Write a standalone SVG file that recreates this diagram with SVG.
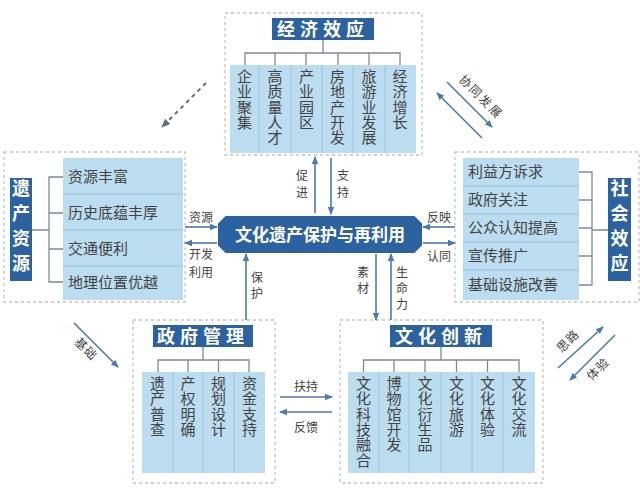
<svg xmlns="http://www.w3.org/2000/svg" width="640" height="492" viewBox="0 0 640 492">
<defs>
<style>
text{font-family:"Noto Sans CJK SC","Noto Sans",sans-serif;}
.frame{fill:none;stroke:#c4c4c4;stroke-width:1.3;stroke-dasharray:3 3;}
.panel{fill:#bcdcef;}
.sep{stroke:#9fc3da;stroke-width:1;}
.title{fill:#2d62a0;}
.tt{fill:#fff;font-weight:bold;font-size:18px;}
.tree{fill:none;stroke:#7d8b98;stroke-width:1.3;}
.it{fill:#444;font-size:15px;}
.vt{fill:#444;font-size:15px;writing-mode:vertical-rl;text-orientation:upright;letter-spacing:0.3px;}
.arr{stroke:#4a7ab3;stroke-width:1.6;fill:none;marker-end:url(#ah);}
.lbl{fill:#444;font-size:12px;}
</style>
<marker id="ah" markerWidth="8" markerHeight="8" refX="7" refY="4" orient="auto" markerUnits="userSpaceOnUse">
<path d="M0,0.8 L8,4 L0,7.2 Z" fill="#4a7ab3"/>
</marker>
<marker id="ahg" markerWidth="9" markerHeight="9" refX="8" refY="4.5" orient="auto" markerUnits="userSpaceOnUse">
<path d="M0,0.8 L9,4.5 L0,8.2 Z" fill="#5f6f82"/>
</marker>
</defs>
<rect width="640" height="492" fill="#fff"/>

<g id="economic">
<rect class="frame" x="225" y="13" width="197" height="142"/>
<rect class="title" x="272" y="18" width="102" height="22"/>
<text class="tt" x="323" y="36" text-anchor="middle" letter-spacing="5">经济效应</text>
<path class="tree" d="M323,40 V53 M245,65 V53 H400 V65 M275,53 V65 M306,53 V65 M338,53 V65 M369,53 V65"/>
<rect class="panel" x="230" y="65" width="186" height="88"/>
<path class="sep" d="M259,65V153M291,65V153M322,65V153M353,65V153M385,65V153"/>
<text class="vt" x="244.5" y="69">企业聚集</text>
<text class="vt" x="275" y="69">高质量人才</text>
<text class="vt" x="306.5" y="69">产业园区</text>
<text class="vt" x="337.5" y="69">房地产开发</text>
<text class="vt" x="369" y="69">旅游业发展</text>
<text class="vt" x="400" y="69">经济增长</text>
</g>

<g id="heritage">
<rect class="frame" x="4" y="152" width="181" height="150"/>
<rect class="title" x="10" y="178" width="22" height="103"/>
<text class="tt" text-anchor="middle"><tspan x="21" y="195">遗</tspan><tspan x="21" y="220">产</tspan><tspan x="21" y="245">资</tspan><tspan x="21" y="270">源</tspan></text>
<path class="tree" d="M32,230 H49 M63,177 H49 V282 H63 M49,213 H63 M49,249 H63"/>
<rect class="panel" x="63" y="158" width="120" height="142"/>
<path class="sep" d="M63,194H183M63,230H183M63,266H183"/>
<text class="it" x="68" y="182">资源丰富</text>
<text class="it" x="68" y="218">历史底蕴丰厚</text>
<text class="it" x="68" y="254">交通便利</text>
<text class="it" x="68" y="288">地理位置优越</text>
</g>

<g id="social">
<rect class="frame" x="455" y="152" width="184" height="150"/>
<path class="tree" d="M579,172 H592 V285 H579 M579,200 H592 M579,228 H592 M579,256 H592 M592,230 H608"/>
<rect class="panel" x="463" y="158" width="116" height="142"/>
<path class="sep" d="M463,186H579M463,214H579M463,242H579M463,270H579"/>
<text class="it" x="468" y="177">利益方诉求</text>
<text class="it" x="468" y="205">政府关注</text>
<text class="it" x="468" y="233">公众认知提高</text>
<text class="it" x="468" y="261">宣传推广</text>
<text class="it" x="468" y="290">基础设施改善</text>
<rect class="title" x="608" y="178" width="23" height="103"/>
<text class="tt" text-anchor="middle"><tspan x="619.5" y="195">社</tspan><tspan x="619.5" y="220">会</tspan><tspan x="619.5" y="245">效</tspan><tspan x="619.5" y="270">应</tspan></text>
</g>

<g id="government">
<rect class="frame" x="133" y="320" width="142" height="163"/>
<rect class="title" x="153" y="325" width="100" height="22"/>
<text class="tt" x="203" y="343" text-anchor="middle" letter-spacing="5">政府管理</text>
<path class="tree" d="M203,347 V360 M158,372 V360 H249 V372 M188,360 V372 M218.5,360 V372"/>
<rect class="panel" x="142" y="372" width="123" height="101"/>
<path class="sep" d="M173,372V473M203,372V473M234,372V473"/>
<text class="vt" x="157.5" y="376">遗产普查</text>
<text class="vt" x="188" y="376">产权明确</text>
<text class="vt" x="218.5" y="376">规划设计</text>
<text class="vt" x="249.5" y="376">资金支持</text>
</g>

<g id="culture">
<rect class="frame" x="340" y="320" width="203" height="163"/>
<rect class="title" x="390" y="325" width="102" height="22"/>
<text class="tt" x="441" y="343" text-anchor="middle" letter-spacing="5">文化创新</text>
<path class="tree" d="M441,347 V360 M363.5,372 V360 H519 V372 M394,360 V372 M425,360 V372 M456.5,360 V372 M487.5,360 V372"/>
<rect class="panel" x="348" y="372" width="187" height="101"/>
<path class="sep" d="M379,372V473M409,372V473M441,372V473M472,372V473M503,372V473"/>
<text class="vt" x="363.5" y="376">文化科技融合</text>
<text class="vt" x="394" y="376">博物馆开发</text>
<text class="vt" x="425" y="376">文化衍生品</text>
<text class="vt" x="456.5" y="376">文化旅游</text>
<text class="vt" x="487.5" y="376">文化体验</text>
<text class="vt" x="519" y="376">文化交流</text>
</g>

<g id="center">
<path d="M226,217 H414 L421,224 V245 L414,252 H226 L219,245 V224 Z" fill="#2d62a0" stroke="#2d62a0" stroke-width="2" stroke-linejoin="round"/>
<text x="320" y="241" text-anchor="middle" fill="#fff" font-size="17" font-weight="bold">文化遗产保护与再利用</text>
</g>

<g id="connectors">
<line class="arr" x1="315" y1="213" x2="315" y2="157"/>
<line class="arr" x1="331" y1="158" x2="331" y2="214"/>
<line class="arr" x1="185" y1="227" x2="217" y2="227"/>
<line class="arr" x1="217" y1="243" x2="185" y2="243"/>
<line class="arr" x1="455" y1="227" x2="423" y2="227"/>
<line class="arr" x1="423" y1="243" x2="455" y2="243"/>
<line class="arr" x1="246" y1="320" x2="246" y2="254"/>
<line class="arr" x1="376" y1="254" x2="376" y2="320"/>
<line class="arr" x1="391" y1="320" x2="391" y2="254"/>
<line class="arr" x1="280" y1="397" x2="332" y2="397"/>
<line class="arr" x1="332" y1="412" x2="280" y2="412"/>
<line class="arr" x1="447" y1="82" x2="492" y2="127"/>
<line class="arr" x1="482" y1="138" x2="437" y2="93"/>
<line class="arr" x1="74" y1="323" x2="118" y2="367"/>
<line class="arr" x1="558" y1="368" x2="603" y2="327"/>
<line class="arr" x1="615" y1="335" x2="570" y2="380"/>
<line x1="206" y1="83" x2="162" y2="127" stroke="#5f6f82" stroke-width="2" stroke-dasharray="4 4" marker-end="url(#ahg)"/>
<text class="lbl" text-anchor="middle"><tspan x="302" y="180">促</tspan><tspan x="302" y="197">进</tspan></text>
<text class="lbl" text-anchor="middle"><tspan x="343" y="180">支</tspan><tspan x="343" y="197">持</tspan></text>
<text class="lbl" x="201" y="222" text-anchor="middle">资源</text>
<text class="lbl" x="201" y="259" text-anchor="middle">开发</text>
<text class="lbl" x="201" y="277" text-anchor="middle">利用</text>
<text class="lbl" x="439" y="222" text-anchor="middle">反映</text>
<text class="lbl" x="439" y="261" text-anchor="middle">认同</text>
<text class="lbl" text-anchor="middle"><tspan x="257" y="282">保</tspan><tspan x="257" y="298">护</tspan></text>
<text class="lbl" text-anchor="middle"><tspan x="363" y="277">素</tspan><tspan x="363" y="293">材</tspan></text>
<text class="lbl" text-anchor="middle"><tspan x="402" y="277">生</tspan><tspan x="402" y="293">命</tspan><tspan x="402" y="309">力</tspan></text>
<text class="lbl" x="306" y="391" text-anchor="middle">扶持</text>
<text class="lbl" x="306" y="432" text-anchor="middle">反馈</text>
<text class="lbl" font-size="11" text-anchor="middle" letter-spacing="2" transform="translate(478,100) rotate(45)">协同发展</text>
<text class="lbl" font-size="11" text-anchor="middle" letter-spacing="1" transform="translate(83,352) rotate(45)">基础</text>
<text class="lbl" font-size="11" text-anchor="middle" letter-spacing="1" transform="translate(571,344) rotate(-45)">思路</text>
<text class="lbl" font-size="11" text-anchor="middle" letter-spacing="1" transform="translate(601,372) rotate(-45)">体验</text>
</g>
</svg>
